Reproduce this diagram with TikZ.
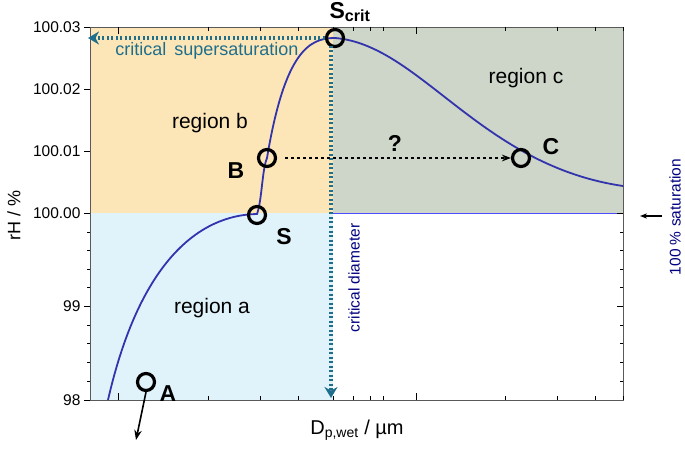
\documentclass[tikz,border=0pt]{standalone}
\usepackage{fontspec}
\setmainfont{Liberation Sans}
\usetikzlibrary{arrows.meta}
\definecolor{oran}{HTML}{FCE6B8}
\definecolor{lblue}{HTML}{E0F3FB}
\definecolor{gcol}{HTML}{CDD6C8}
\definecolor{dotc}{HTML}{1F6E8C}
\begin{document}
\begin{tikzpicture}[x=1pt,y=-1pt,
  pt/.style={circle,draw=black,line width=3.2pt,minimum size=17pt,inner sep=0pt},
  big/.style={font=\bfseries\fontsize{23}{25}\selectfont},
  reg/.style={font=\fontsize{21}{23}\selectfont},
  tick/.style={font=\fontsize{15.5}{17}\selectfont,anchor=east},
  dot/.style={draw=dotc,line width=3.2pt,dash pattern=on 2pt off 2.5pt,-{Stealth[length=11pt,width=13pt]}}]
\useasboundingbox (0,0) rectangle (685,449);
\fill[oran] (90,27) rectangle (333,213);
\fill[lblue] (90,213) rectangle (333,400);
\fill[gcol] (333,27) rectangle (623,213);
\draw[blue!70,line width=0.8pt] (333,213) -- (623,213);
\draw[gray!70!black,line width=0.8pt] (90,27) rectangle (623,400);
% y ticks
\foreach \y/\t in {27/100.03,89/100.02,151/100.01,213/100.00,306/99,400/98}{
  \draw (84,\y) -- (90,\y); \node[tick] at (84,\y) {\t};}
\foreach \y in {232,250,269,287,325,343,362,381}{\draw (87,\y)--(90,\y); \draw (620,\y)--(623,\y);}
\foreach \y in {213,306}{\draw (617,\y)--(623,\y);}
% x ticks
\foreach \x in {118,208,260,298,333,353,370,383,416,505,557,595,623}{
  \draw (\x,400)--(\x,396); \draw (\x,27)--(\x,31);}
\foreach \x in {118,416}{\draw (\x,400)--(\x,393); \draw (\x,27)--(\x,34);}
% curve
\draw[blue!60!black!80,line width=1.8pt] (108,400) .. controls (140,260) and (200,215) .. (257,214)
  .. controls (262,200) and (262,170) .. (267,158) .. controls (285,50) and (310,38) .. (335,38)
  .. controls (420,45) and (480,165) .. (623,186);
\node[pt] (S) at (257,215) {};
\node[pt] (B) at (267,158) {};
\node[pt] (Sc) at (335,38) {};
\node[pt] (C) at (521,158) {};
\node[pt] (A) at (146,382) {};
\coordinate (Aend) at (136,440);
\draw[-{Stealth[length=10pt]},line width=1.6pt] (A.south) -- (Aend);
\draw[dot] (Sc) -- (88,38);
\draw[dot] (331,46) -- (331,398);
\draw[dashed,line width=1.1pt,-{Stealth[length=9pt]}] (B.east) ++(8,0) -- (C.west);
\node[big] at (395,143) {?};
\node[big] at (284,237) {S};
\node[big] at (236,171) {B};
\node[big] at (551,147) {C};
\node[big] at (168,394) {A};
\node[big] at (350,12) {S\textsubscript{crit}};
\node[reg] at (212,308) {region a};
\node[reg] at (210,123) {region b};
\node[reg] at (526,78) {region c};
\node[text=dotc,font=\fontsize{18}{20}\selectfont] at (207,51) {critical\, supersaturation};
\node[text=blue!50!black,rotate=90,font=\fontsize{15.5}{17}\selectfont] at (354,278) {critical diameter};
\node[text=blue!50!black,rotate=90,font=\fontsize{15.5}{17}\selectfont] at (675,217) {100 \% saturation};
\coordinate (sat) at (640,216);
\draw[-{Stealth[length=7pt]},line width=1.2pt] (662,216) -- (sat);
\node[rotate=90,font=\fontsize{18}{20}\selectfont] at (14,215) {rH / \%};
\node[font=\fontsize{20}{22}\selectfont] at (357,430) {D\textsubscript{p,wet} / \textmu m};
\end{tikzpicture}
\end{document}
